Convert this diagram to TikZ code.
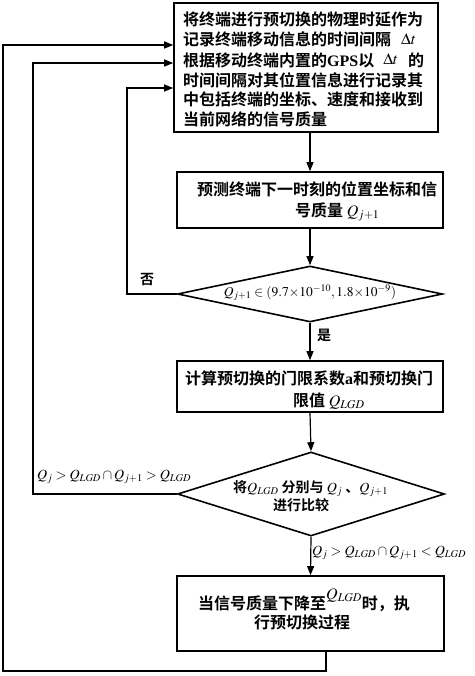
\documentclass[tikz,border=0pt]{standalone}
\usepackage{mathptmx}
\usepackage[no-math]{fontspec}
\setmainfont{Noto Sans CJK SC}[BoldFont={* Bold}]
\newfontfamily\tnr{Liberation Serif}
\usetikzlibrary{shapes.geometric,arrows.meta}
\begin{document}
\begin{tikzpicture}[x=1pt,y=-1pt,
  box/.style={draw, line width=1.6pt, inner sep=0pt},
  dia/.style={draw, diamond, line width=1.6pt, inner sep=0pt},
  arr/.style={line width=1.2pt, -{Triangle[length=9pt,width=7pt]}},
  txt/.style={inner sep=0pt, anchor=base west, font=\fontsize{16}{20}\selectfont\bfseries},
  stxt/.style={inner sep=0pt, anchor=base west, font=\fontsize{14}{18}\selectfont\bfseries},
  lab/.style={inner sep=0pt, font=\fontsize{14}{18}\selectfont\bfseries}]
\useasboundingbox (0,0) rectangle (474,676);

% boxes
\node[box, minimum width=264pt, minimum height=129pt] (box1) at (306,67.5) {};
\node[box, minimum width=266pt, minimum height=56pt] (box2) at (310,200) {};
\node[dia, minimum width=265pt, minimum height=56pt] (d1) at (310,294) {};
\node[box, minimum width=266pt, minimum height=51pt] (box3) at (310,386.5) {};
\node[dia, minimum width=267pt, minimum height=84pt] (d2) at (311,494) {};
\node[box, minimum width=267pt, minimum height=75pt] (box4) at (310.5,613.5) {};

% box1 text
\node[txt] (t1a) at (183,26) {将终端进行预切换的物理时延作为};
\node[txt] (t1b) at (183,46) {记录终端移动信息的时间间隔\hspace{10pt}\raisebox{1pt}{\fontsize{16}{20}\selectfont$\Delta t$}};
\node[txt] (t1c) at (183,67) {根据移动终端内置的{\tnr\bfseries GPS}以\hspace{9pt}\raisebox{2pt}{\fontsize{16}{20}\selectfont$\Delta t$}\hspace{10pt}的};
\node[txt] (t1d) at (183,87) {时间间隔对其位置信息进行记录其};
\node[txt] (t1e) at (183,106) {中包括终端的坐标、速度和接收到};
\node[txt] (t1f) at (183,126) {当前网络的信号质量};

% box2 text
\node[txt] (t2a) at (197,196) {预测终端下一时刻的位置坐标和信};
\node[txt] (t2b) at (295,216) {号质量 $Q_{j+1}$};

% diamond1 text
\node[inner sep=0pt, font=\fontsize{13.5}{16}\selectfont] (t3) at (310,293) {$Q_{j+1}\in(9.7{\times}10^{-10},1.8{\times}10^{-9})$};

% box3 text
\node[txt] (t4a) at (185,384) {计算预切换的门限系数{\tnr\bfseries a}和预切换门};
\node[txt] (t4b) at (293,406) {限值 $Q_{LGD}$};

% diamond2 text
\node[stxt] (t5a) at (233,492) {将$Q_{LGD}$ 分别与 $Q_j$ 、$Q_{j+1}$};
\node[stxt] (t5b) at (273,510) {进行比较};

% box4 text
\node[txt] (t6a) at (198,609) {当信号质量下降至\raisebox{10pt}{$Q_{LGD}$}时，执};
\node[txt] (t6b) at (254,628) {行预切换过程};

% labels
\node[lab] (no) at (147,280) {否};
\node[lab] (yes) at (324,335) {是};
\node[lab, anchor=base west, font=\fontsize{14}{18}\selectfont] (c1) at (37,479) {$Q_j>Q_{LGD}\cap Q_{j+1}>Q_{LGD}$};
\node[lab, anchor=base west, font=\fontsize{14}{18}\selectfont] (c2) at (312,555) {$Q_j>Q_{LGD}\cap Q_{j+1}<Q_{LGD}$};

% main flow
\draw[arr] (box1.south -| box2.north) -- (box2.north);
\draw[arr] (box2.south) -- (d1.north);
\draw[arr] (d1.south) -- (box3.north);
\draw[arr] (box3.south) -- (d2.north);
\draw[arr] (d2.south) -- (box4.north);

% feedback loops
\coordinate (f1) at (127,88);
\coordinate (f2) at (33,63);
\coordinate (g1) at (326,671);
\coordinate (g2) at (3,45);
\draw[arr] (d1.west) -| (f1) -- (box1.west |- f1);
\draw[arr] (d2.west) -| (f2) -- (box1.west |- f2);
\draw[arr] (box4.south -| g1) -- (g1) -| (g2) -- (box1.west |- g2);
\end{tikzpicture}
\end{document}
